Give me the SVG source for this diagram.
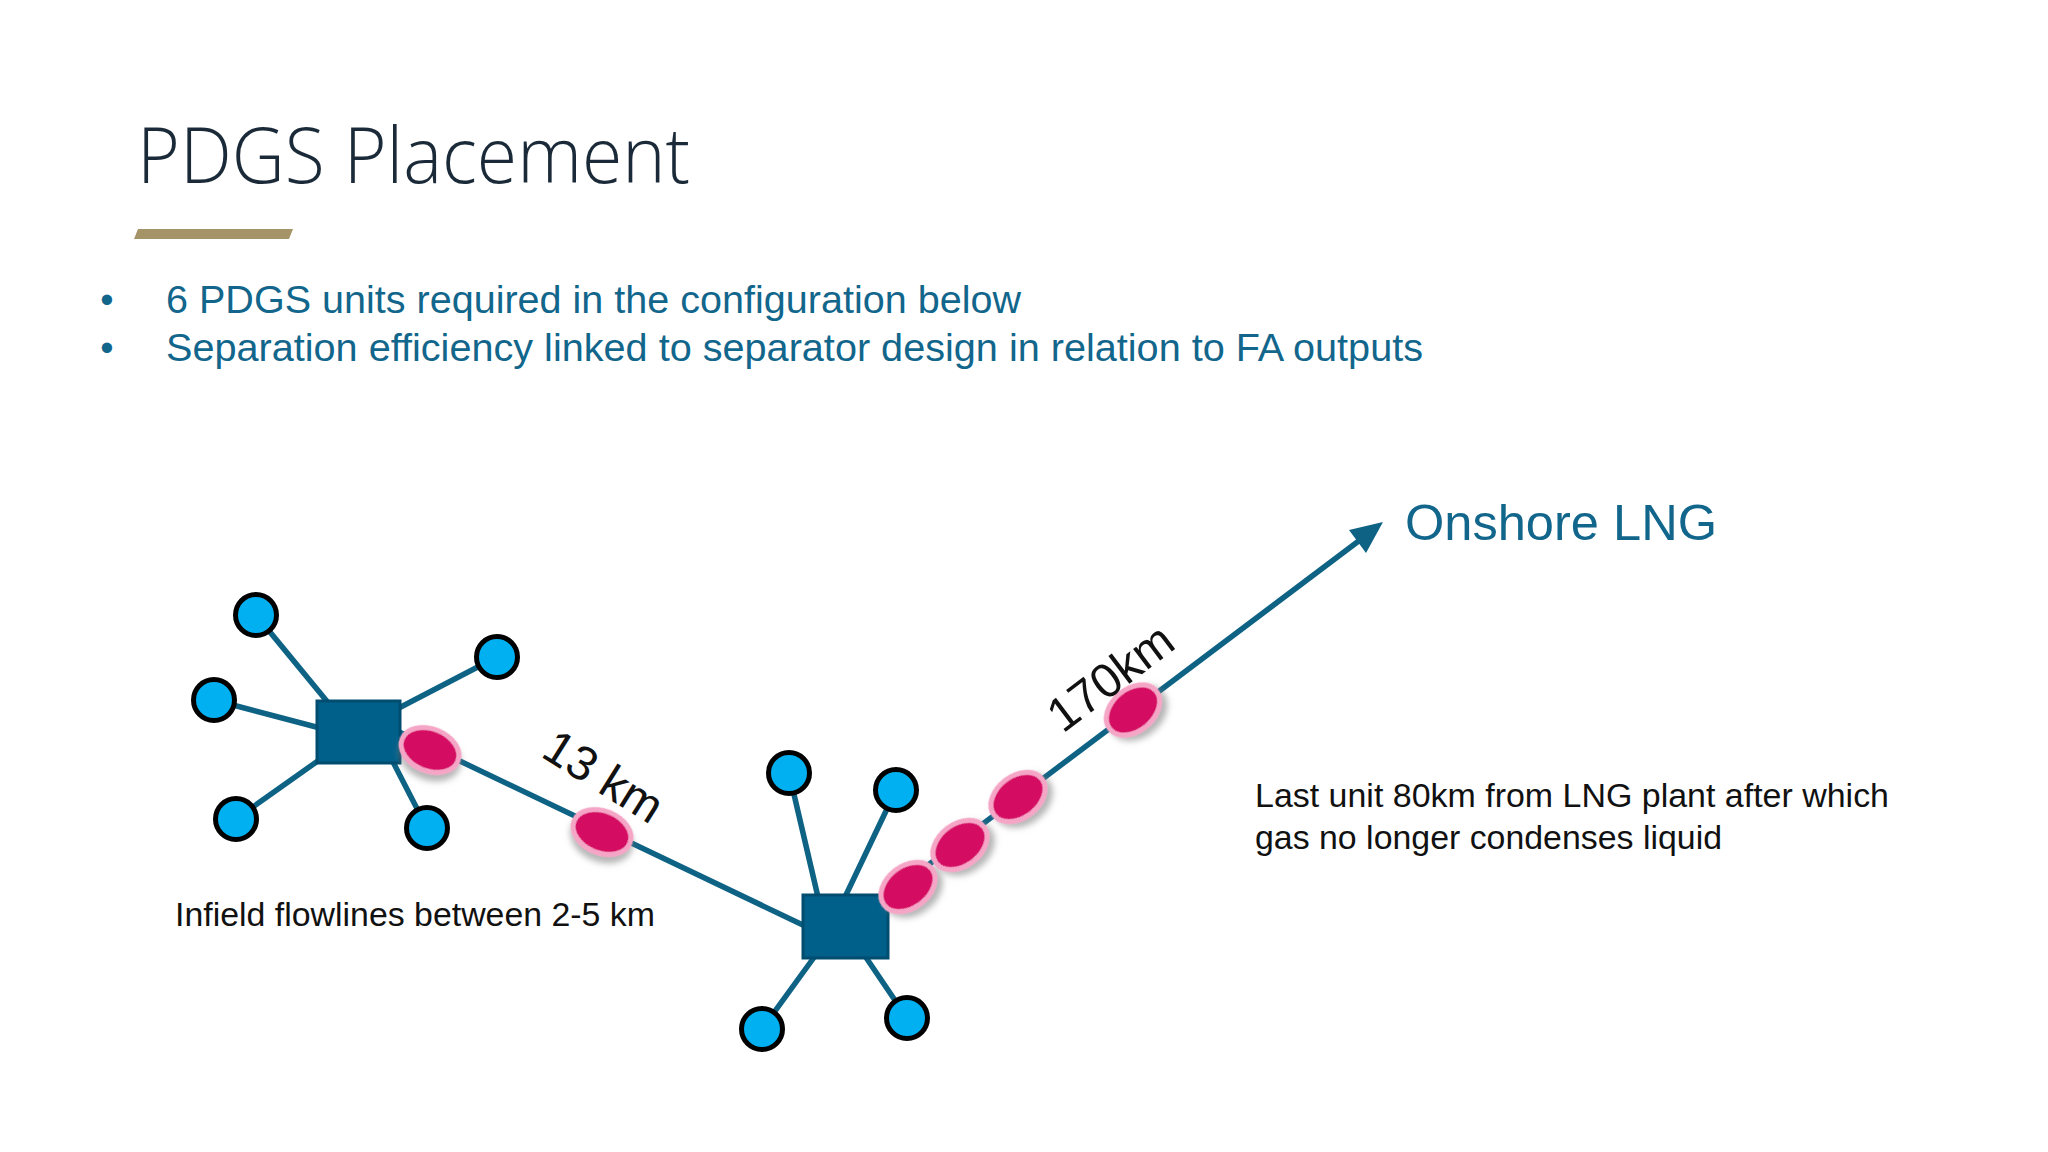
<svg xmlns="http://www.w3.org/2000/svg" width="2048" height="1152" viewBox="0 0 2048 1152">
<style>
.title{font-family:"Open Sans","Liberation Sans",sans-serif;font-weight:300;font-size:77px;fill:#1B2A38}
.bullet{font-family:"Liberation Sans",Arial,sans-serif;font-size:38px;fill:#12668C}
.lbl{font-family:"Liberation Sans",Arial,sans-serif;fill:#111}
.dist{font-size:48px}
.note{font-size:33px}
.link{stroke:#0E6385;stroke-width:5.5;fill:none;stroke-linecap:round}
.well{fill:#00B0F0;stroke:#000;stroke-width:5}
.hub{fill:#00608A;stroke:#004D70;stroke-width:3}
.unit{fill:#D40A64;stroke:#F5A6C6;stroke-width:5;filter:url(#sh)}
</style>
<defs>
<filter id="sh" x="-50%" y="-50%" width="200%" height="200%">
<feDropShadow dx="2" dy="6" stdDeviation="3" flood-color="#777" flood-opacity="0.55"/>
</filter>
</defs>
<rect width="2048" height="1152" fill="#FFFFFF"/>

<text class="title" x="137" y="183" textLength="553" lengthAdjust="spacingAndGlyphs">PDGS Placement</text>
<polygon points="138,229 293,229 289,239 134,239" fill="#A59467"/>

<g id="bullets">
<text class="bullet" x="107" y="313" text-anchor="middle">•</text>
<text class="bullet" x="166" y="313" textLength="855" lengthAdjust="spacingAndGlyphs">6 PDGS units required in the configuration below</text>
<text class="bullet" x="107" y="361" text-anchor="middle">•</text>
<text class="bullet" x="166" y="361" textLength="1257" lengthAdjust="spacingAndGlyphs">Separation efficiency linked to separator design in relation to FA outputs</text>
</g>

<g id="connectors">
<line class="link" x1="256" y1="615" x2="330" y2="705"/>
<line class="link" x1="214" y1="700" x2="320" y2="728"/>
<line class="link" x1="497" y1="657" x2="395" y2="710"/>
<line class="link" x1="236" y1="819" x2="322" y2="758"/>
<line class="link" x1="427" y1="828" x2="392" y2="760"/>
<line class="link" x1="395" y1="730" x2="805" y2="926"/>
<line class="link" x1="789" y1="773" x2="818" y2="897"/>
<line class="link" x1="896" y1="790" x2="845" y2="897"/>
<line class="link" x1="762" y1="1029" x2="815" y2="956"/>
<line class="link" x1="907" y1="1018" x2="865" y2="956"/>
<line class="link" x1="875" y1="905" x2="1360" y2="540"/>
<polygon points="1383,522 1366,553 1349,530" fill="#0E6385"/>
</g>

<g id="hub1"><rect class="hub" x="317" y="701" width="83" height="62"/></g>
<g id="hub2"><rect class="hub" x="803" y="895" width="85" height="63"/></g>

<g id="wells1">
<circle class="well" cx="256" cy="615" r="20.5"/>
<circle class="well" cx="214" cy="700" r="20.5"/>
<circle class="well" cx="497" cy="657" r="20.5"/>
<circle class="well" cx="236" cy="819" r="20.5"/>
<circle class="well" cx="427" cy="828" r="20.5"/>
</g>
<g id="wells2">
<circle class="well" cx="789" cy="773" r="20.5"/>
<circle class="well" cx="896" cy="790" r="20.5"/>
<circle class="well" cx="762" cy="1029" r="20.5"/>
<circle class="well" cx="907" cy="1018" r="20.5"/>
</g>

<g id="units">
<ellipse class="unit" cx="430" cy="750" rx="30" ry="21" transform="rotate(22 430 750)"/>
<ellipse class="unit" cx="602" cy="832" rx="30" ry="21" transform="rotate(22 602 832)"/>
<ellipse class="unit" cx="908" cy="887" rx="30" ry="21" transform="rotate(-37 908 887)"/>
<ellipse class="unit" cx="960" cy="845" rx="30" ry="21" transform="rotate(-37 960 845)"/>
<ellipse class="unit" cx="1018" cy="797" rx="30" ry="21" transform="rotate(-37 1018 797)"/>
<ellipse class="unit" cx="1133" cy="710" rx="30" ry="21" transform="rotate(-40 1133 710)"/>
</g>

<g id="labels">
<text class="lbl dist" transform="translate(604,776) rotate(32)" x="0" y="17" text-anchor="middle">13 km</text>
<text class="lbl dist" transform="translate(1110,677) rotate(-37)" x="0" y="17" text-anchor="middle">170km</text>
<text x="1405" y="540" font-family="Liberation Sans, Arial, sans-serif" font-size="50" fill="#12668C" textLength="312" lengthAdjust="spacingAndGlyphs">Onshore LNG</text>
<text class="lbl note" x="1255" y="807" textLength="634" lengthAdjust="spacingAndGlyphs">Last unit 80km from LNG plant after which</text>
<text class="lbl note" x="1255" y="849" textLength="467" lengthAdjust="spacingAndGlyphs">gas no longer condenses liquid</text>
<text class="lbl note" x="175" y="926" textLength="480" lengthAdjust="spacingAndGlyphs">Infield flowlines between 2-5 km</text>
</g>
</svg>
